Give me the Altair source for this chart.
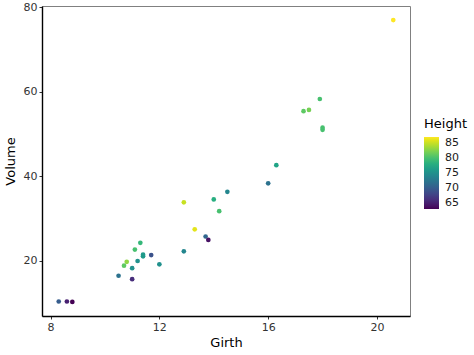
import altair as alt
import pandas as pd

girth = [8.3, 8.6, 8.8, 10.5, 10.7, 10.8, 11.0, 11.0, 11.1, 11.2, 11.3, 11.4, 11.4, 11.7, 12.0, 12.9, 12.9, 13.3, 13.7, 13.8, 14.0, 14.2, 14.5, 16.0, 16.3, 17.3, 17.5, 17.9, 18.0, 18.0, 20.6]
height = [70, 65, 63, 72, 81, 83, 66, 75, 80, 75, 79, 76, 76, 69, 75, 74, 85, 86, 71, 64, 78, 80, 74, 72, 77, 81, 82, 80, 80, 80, 87]
volume = [10.3, 10.3, 10.2, 16.4, 18.8, 19.7, 15.6, 18.2, 22.6, 19.9, 24.2, 21.0, 21.4, 21.3, 19.1, 22.2, 33.8, 27.4, 25.7, 24.9, 34.5, 31.7, 36.3, 38.3, 42.6, 55.4, 55.7, 58.3, 51.5, 51.0, 77.0]

df = pd.DataFrame({"Girth": girth, "Height": height, "Volume": volume})

FONT = "DejaVu Sans"

chart = alt.Chart(df).mark_circle(size=22, opacity=1).encode(
    x=alt.X("Girth:Q", scale=alt.Scale(domain=[7.685, 21.215], nice=False, zero=False),
            axis=alt.Axis(values=[8, 12, 16, 20], title="Girth", grid=False)),
    y=alt.Y("Volume:Q", scale=alt.Scale(domain=[6.86, 80.34], nice=False, zero=False),
            axis=alt.Axis(values=[20, 40, 60, 80], title="Volume", grid=False)),
    color=alt.Color("Height:Q", scale=alt.Scale(scheme="viridis", domain=[63, 87]),
                    legend=alt.Legend(title="Height", orient="none", legendX=382, legendY=112,
                                      values=[65, 70, 75, 80, 85], gradientLength=72,
                                      gradientThickness=15, gradientStrokeWidth=0,
                                      labelFontSize=11, labelColor="#1a1a1a", titleFontSize=13,
                                      titleFontWeight="normal", titleColor="#000000",
                                      labelFont=FONT, titleFont=FONT, titlePadding=6,
                                      labelOffset=6, padding=0, offset=0)),
).properties(
    width=368, height=310,
    autosize=alt.AutoSizeParams(type="none"),
    padding={"left": 42, "top": 6, "right": 64, "bottom": 39},
).configure_view(
    stroke="#808080", strokeWidth=1
).configure_axis(
    domainColor="#000000", domainWidth=1.4, tickColor="#333333", tickSize=3,
    labelFontSize=11, labelColor="#333333", labelFont=FONT, labelPadding=2,
    titleFontSize=13, titleFontWeight="normal", titleColor="#000000", titleFont=FONT,
).configure_axisX(titlePadding=4).configure_axisY(titlePadding=6)

chart.save("out.html", embed_options={"renderer": "svg", "actions": False})
